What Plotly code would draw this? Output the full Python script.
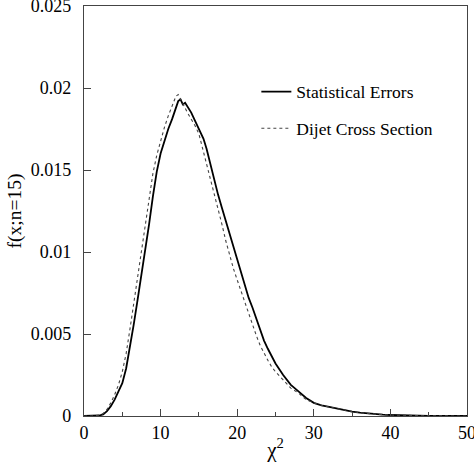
import plotly.graph_objects as go

# Statistical Errors (solid)
stat_x = [0, 1, 2, 2.5, 3, 3.5, 4, 4.5, 5, 5.5, 6, 6.5, 7, 7.5, 8, 8.5, 9, 9.5, 10, 10.5,
          11, 11.5, 12, 12.3, 12.6, 12.9, 13.2, 13.6, 14, 14.5, 15, 15.6, 16, 16.5, 17, 17.5,
          18, 18.5, 19, 19.5, 20, 20.5, 21, 21.5, 22, 22.5, 23, 23.5, 24, 24.5, 25, 26, 27,
          28, 29, 30, 31, 32, 33, 34, 35, 36, 37, 38, 39, 40, 42, 45, 50]
stat_y = [0, 0, 0.00003, 0.0001, 0.0003, 0.0006, 0.0010, 0.0015, 0.0020, 0.0029, 0.0042,
          0.0056, 0.0071, 0.0086, 0.0100, 0.0117, 0.0134, 0.0149, 0.0160, 0.0168,
          0.0175, 0.0181, 0.0188, 0.0192, 0.0193, 0.0190, 0.0191, 0.0188, 0.0185, 0.0180,
          0.0175, 0.0169, 0.0163, 0.0153, 0.0144, 0.0135, 0.0127, 0.0119, 0.0111, 0.0103,
          0.0095, 0.0087, 0.0080, 0.0072, 0.0066, 0.0059, 0.0052, 0.0046, 0.0041, 0.0036,
          0.0032, 0.0025, 0.0019, 0.0015, 0.0011, 0.0008, 0.00065, 0.00055, 0.00045,
          0.00035, 0.00027, 0.0002, 0.00015, 0.0001, 0.00008, 0.00006, 0.00003, 0.00001, 0]

# Dijet Cross Section (dotted)
dijet_x = [0, 1, 2, 2.5, 3, 3.5, 4, 4.5, 5, 5.5, 6, 6.5, 7, 7.5, 8, 8.5, 9, 9.5, 10, 10.5,
           11, 11.5, 12, 12.3, 12.6, 13, 13.5, 14, 14.5, 15, 15.5, 16, 16.5, 17, 17.5, 18,
           18.5, 19, 19.5, 20, 20.5, 21, 21.5, 22, 22.5, 23, 23.5, 24, 24.5, 25, 26, 27, 28,
           29, 30, 31, 32, 33, 34, 35, 36, 37, 38, 39, 40, 42, 45, 50]
dijet_y = [0, 0, 0.00005, 0.00015, 0.0004, 0.0008, 0.0013, 0.0019, 0.0027, 0.0038, 0.0053,
           0.0069, 0.0085, 0.0101, 0.0117, 0.0133, 0.0148, 0.0159, 0.0168, 0.0176,
           0.0183, 0.0189, 0.0195, 0.0196, 0.0193, 0.0189, 0.0185, 0.0181, 0.0177, 0.0172,
           0.0163, 0.0154, 0.0144, 0.0135, 0.0126, 0.0117, 0.0107, 0.0098, 0.0090, 0.0083,
           0.0076, 0.0069, 0.0062, 0.0055, 0.0049, 0.0043, 0.0038, 0.0034, 0.0030, 0.0027,
           0.0022, 0.0017, 0.0014, 0.0010, 0.0008, 0.00065, 0.00055, 0.00045, 0.00035,
           0.00027, 0.0002, 0.00015, 0.0001, 0.00008, 0.00006, 0.00003, 0.00001, 0]

x_ticks = [0, 10, 20, 30, 40, 50]
y_ticks = [0, 0.005, 0.01, 0.015, 0.02, 0.025]
y_tick_text = ["0", "0.005", "0.01", "0.015", "0.02", "0.025"]

FONT = "Times New Roman, Liberation Serif, DejaVu Serif, serif"

fig = go.Figure()
fig.add_trace(go.Scatter(x=stat_x, y=stat_y, mode="lines", name="Statistical Errors",
                         legendgroup="a",
                         line=dict(color="black", width=1.8)))
fig.add_trace(go.Scatter(x=dijet_x, y=dijet_y, mode="lines", name="Dijet Cross Section",
                         legendgroup="b",
                         line=dict(color="#444444", width=1.1, dash="dot")))

fig.update_layout(
    width=474, height=474,
    margin=dict(l=84, r=7, t=6, b=58, autoexpand=False),
    paper_bgcolor="white", plot_bgcolor="white",
    font=dict(family=FONT, size=18, color="black"),
    showlegend=True,
    legend=dict(x=0.45, y=0.835, xanchor="left", yanchor="top",
                bgcolor="rgba(0,0,0,0)", font=dict(size=17.5, family=FONT),
                tracegroupgap=11, itemwidth=30),
    xaxis=dict(range=[0, 50], tickvals=x_ticks, ticks="inside", ticklen=7,
               tickcolor="#444", showline=True, linecolor="#444", linewidth=1.2,
               mirror=True, showgrid=False, zeroline=False, ticklabeloverflow="allow",
               automargin=False, tickfont=dict(family=FONT, size=18, color="black"),
               minor=dict(dtick=5, ticks="inside", ticklen=4, tickcolor="#444"),
               title=dict(text="χ<sup>2</sup>", font=dict(size=21, family=FONT), standoff=0)),
    yaxis=dict(range=[0, 0.025], tickvals=y_ticks, ticktext=y_tick_text,
               ticks="inside", ticklen=7, tickcolor="#444", showline=True,
               linecolor="#444", linewidth=1.2, mirror=True, showgrid=False,
               zeroline=False, ticklabelstandoff=8, ticklabeloverflow="allow",
               automargin=False, tickfont=dict(family=FONT, size=18, color="black"),
               title=dict(text="f(x;n=15)", font=dict(size=19.5, family=FONT), standoff=3)),
)

fig.write_html("out.html")
